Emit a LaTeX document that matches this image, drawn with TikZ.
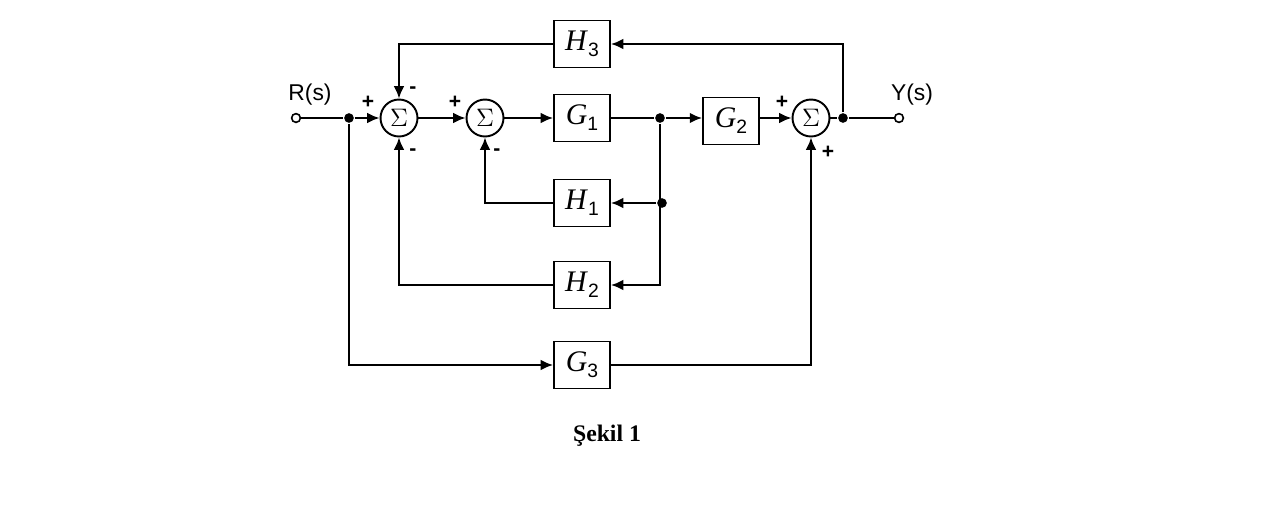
\documentclass[tikz,border=0pt]{standalone}
\usepackage{fontspec}
\setmainfont{Liberation Serif}
\newfontfamily\arial{Liberation Sans}
\usetikzlibrary{arrows.meta}
\newcommand{\blab}[2]{\textit{#1}\raisebox{-0.45ex}{\arial\fontsize{11}{11}\selectfont #2}}
\tikzset{
    blk/.style={draw, line width=1.1pt, minimum width=1.12cm, minimum height=0.94cm, inner sep=0pt, font=\fontsize{17}{17}\selectfont},
    sumnode/.style={draw, circle, line width=1.1pt, minimum size=0.74cm, inner sep=0pt, font=\fontsize{14}{14}\selectfont},
    dot/.style={circle, fill, inner sep=0pt, minimum size=5.5pt},
    term/.style={circle, draw, fill=white, line width=0.9pt, inner sep=0pt, minimum size=5pt},
    sgn/.style={font=\arial\bfseries\fontsize{12}{12}\selectfont, inner sep=0pt},
    lbl/.style={font=\arial\fontsize{13}{13}\selectfont}
}
\begin{document}
\begin{tikzpicture}[>={Latex[length=7pt,width=6pt]}, x=0.02cm, y=-0.02cm, line width=1.1pt]
\useasboundingbox (0,0) rectangle (1274,518);
% terminals and branch points
\node[term] (in) at (296,118) {};
\node[term] (out) at (899,118) {};
\node[dot] (d1) at (349,118) {};
\node[dot] (d2) at (660,118) {};
\node[dot] (d4) at (662,203) {};
\node[dot] (d3) at (843,118) {};
\node[lbl] (rs) at (310,95) {R(s)};
\node[lbl] (ys) at (912,95) {Y(s)};
% summing junctions
\node[sumnode] (s1) at (399,118) {$\Sigma$};
\node[sumnode] (s2) at (485,118) {$\Sigma$};
\node[sumnode] (s3) at (811,118) {$\Sigma$};
% blocks
\node[blk] (h3) at (582,44) {\blab{H}{3}};
\node[blk] (g1) at (582,118) {\blab{G}{1}};
\node[blk] (g2) at (731,121) {\blab{G}{2}};
\node[blk] (h1) at (582,203) {\blab{H}{1}};
\node[blk] (h2) at (582,285) {\blab{H}{2}};
\node[blk] (g3) at (582,365) {\blab{G}{3}};
% signs
\node[sgn] (p1) at (368,102) {+};
\node[sgn] (m1) at (413,90) {-};
\node[sgn] (m2) at (413,152) {-};
\node[sgn] (p2) at (455,102) {+};
\node[sgn] (m3) at (497,152) {-};
\node[sgn] (p3) at (782,102) {+};
\node[sgn] (p4) at (828,152) {+};
% forward path
\draw (in)--(d1);
\draw[->] (d1)--(s1);
\draw[->] (s1)--(s2);
\draw[->] (s2)--(g1);
\draw (g1)--(d2);
\draw[->] (d2)--(g2.west|-d2);
\draw[->] (g2.east|-s3)--(s3);
\draw (s3)--(d3)--(out);
% feedback loops
\draw[->] (d3)|-(h3);
\draw[->] (h3)-|(s1);
\draw (d2)--(d2|-d4);
\draw[->] (d4)--(h1);
\draw[->] (h1)-|(s2);
\draw[->] (d2|-d4)|-(h2);
\draw[->] (h2)-|(s1);
% feedforward
\draw[->] (d1)|-(g3);
\draw[->] (g3)-|(s3);
\node[font=\bfseries\fontsize{13.5}{13.5}\selectfont] (cap) at (607,436) {Şekil 1};
\end{tikzpicture}
\end{document}
